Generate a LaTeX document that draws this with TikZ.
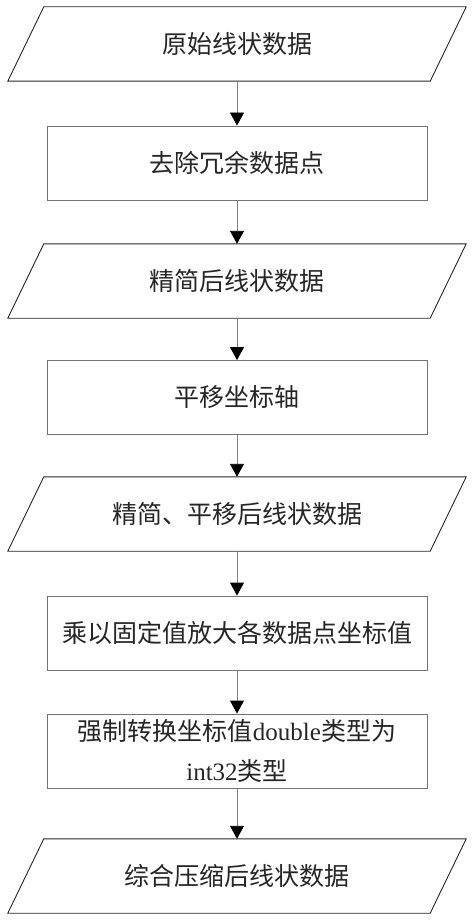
\documentclass[tikz,border=0pt]{standalone}
\usepackage{fontspec}
\setmainfont{Liberation Serif}
\newfontfamily\cjk{Noto Sans CJK SC}
\usetikzlibrary{arrows.meta}
\tikzset{
  boxstep/.style={draw=black!55, line width=0.9pt, rectangle, minimum width=380pt, minimum height=74pt, inner sep=0pt, font=\fontsize{25}{40}\selectfont, text=black!85, align=center},
  datastep/.style={rectangle, minimum width=422pt, minimum height=74pt, inner sep=0pt, font=\fontsize{25}{40}\selectfont, text=black!85},
  paraline/.style={draw=black!85, line width=0.9pt},
  arr/.style={draw=black!50, line width=0.9pt, -{Triangle[width=14pt,length=13pt,fill=black,color=black]}}
}
\begin{document}
\begin{tikzpicture}[x=1pt,y=-1pt]
\useasboundingbox (0,0) rectangle (474,920);
\node[datastep] (d1) at (237,44) {\cjk 原始线状数据};
\node[boxstep] (b2) at (237,163) {\cjk 去除冗余数据点};
\node[datastep] (d3) at (237,281) {\cjk 精简后线状数据};
\node[boxstep] (b4) at (237,397.5) {\cjk 平移坐标轴};
\node[datastep] (d5) at (237,514) {\cjk 精简、平移后线状数据};
\node[boxstep] (b6) at (237,633) {\cjk 乘以固定值放大各数据点坐标值};
\node[boxstep] (b7) at (237,751) {{\cjk 强制转换坐标值}double{\cjk 类型为}\\int32{\cjk 类型}};
\node[datastep] (d8) at (237,876) {\cjk 综合压缩后线状数据};
\foreach \n in {d1,d3,d5,d8}
  \draw[paraline] ([xshift=18pt]\n.north west) -- ([xshift=18pt]\n.north east)
    -- ([xshift=-18pt]\n.south east) -- ([xshift=-18pt]\n.south west) -- cycle;
\draw[arr] (d1) -- (b2);
\draw[arr] (b2) -- (d3);
\draw[arr] (d3) -- (b4);
\draw[arr] (b4) -- (d5);
\draw[arr] (d5) -- (b6);
\draw[arr] (b6) -- (b7);
\draw[arr] (b7) -- (d8);
\end{tikzpicture}
\end{document}
